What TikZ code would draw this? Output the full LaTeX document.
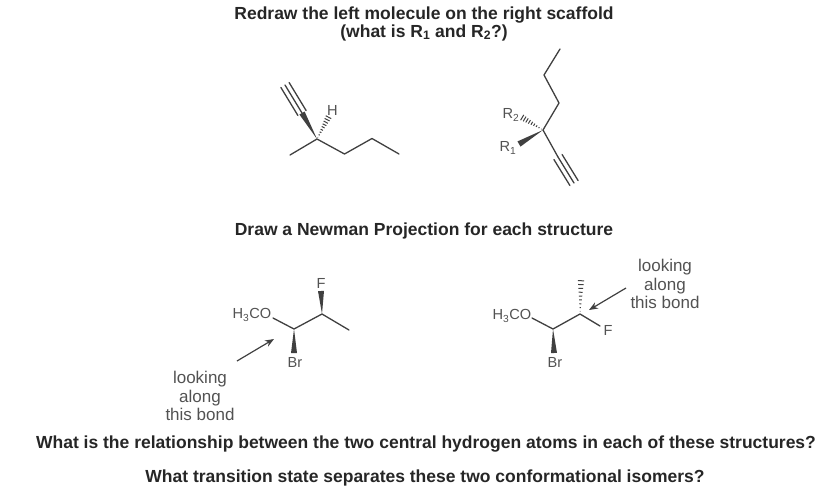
\documentclass[tikz,border=0pt]{standalone}
\usepackage{fontspec}
\setmainfont{Liberation Sans}
\usepackage{tikz}
\usetikzlibrary{calc,arrows.meta}

\newcommand{\wedgebond}[2]{\fill[bondcolor] (#1) -- ($(#2)!3pt!90:(#1)$) -- ($(#2)!3pt!-90:(#1)$) -- cycle;}
\newcommand{\hashbond}[2]{\foreach \t in {0.08,0.2,...,1.05} {
\draw[bondcolor,line width=1pt] ($($(#1)!\t!(#2)$)!\t*3pt!90:(#2)$) -- ($($(#1)!\t!(#2)$)!\t*3pt!-90:(#2)$);
}}
\newcommand{\triplebond}[2]{\draw[bond] (#1) -- (#2);
\draw[bond] ($(#1)!4.8pt!90:(#2)$) -- ($(#2)!4.8pt!-90:(#1)$);
\draw[bond] ($(#1)!4.8pt!-90:(#2)$) -- ($(#2)!4.8pt!90:(#1)$);}

\colorlet{bondcolor}{black!75}
\colorlet{textcolor}{black!85}

\begin{document}
\begin{tikzpicture}[x=1pt,y=-1pt]
\tikzstyle{bond}=[draw=bondcolor,line width=1.3pt,line cap=round,line join=round]
\tikzstyle{heading}=[inner sep=0pt,font=\fontsize{17.5}{15.5}\selectfont\bfseries,text=textcolor]
\tikzstyle{atom}=[inner sep=0pt,font=\fontsize{14.6}{16}\selectfont,text=textcolor!80]
\tikzstyle{note}=[inner sep=0pt,align=center,font=\fontsize{17}{18.5}\selectfont,text=textcolor!80]
\tikzstyle{pointer}=[draw=bondcolor,line width=1.2pt,-{Stealth[length=9pt,width=7pt]}]

\useasboundingbox (0,0) rectangle (835,491);

% headings
\node[heading,align=center] (redraw) at (424,24) {Redraw the left molecule on the right scaffold\\(what is R\textsubscript{1} and R\textsubscript{2}?)};
\node[heading] (newman) at (424,231) {Draw a Newman Projection for each structure};
\node[heading] (relation) at (426,444) {What is the relationship between the two central hydrogen atoms in each of these structures?};
\node[heading] (transition) at (425,478) {What transition state separates these two conformational isomers?};

% left molecule
\coordinate (lc) at (317,139);
\coordinate (lyne) at (302,113);
\coordinate (lend) at (285,85);
\coordinate (lme) at (290,155);
\coordinate (la) at (344.5,154);
\coordinate (lb) at (372,138.5);
\coordinate (ld) at (399,154);
\coordinate (lhash) at (328,118);
\node[atom] (lh) at (332.5,110.5) {H};
\draw[bond] (lme) -- (lc) -- (la) -- (lb) -- (ld);
\triplebond{lyne}{lend}
\wedgebond{lc}{lyne}
\hashbond{lc}{lhash}

% right scaffold
\coordinate (rc) at (543,130);
\coordinate (ra) at (559,103);
\coordinate (rb) at (544,75);
\coordinate (rd) at (560,49);
\coordinate (ryne) at (558,157);
\coordinate (rend) at (574,183);
\coordinate (rhash) at (523,118);
\coordinate (rwedge) at (519,144);
\node[atom] (rtwo) at (511,115) {R\textsubscript{2}};
\node[atom] (rone) at (508,148) {R\textsubscript{1}};
\draw[bond] (rd) -- (rb) -- (ra) -- (rc) -- (ryne);
\triplebond{ryne}{rend}
\wedgebond{rc}{rwedge}
\hashbond{rc}{rhash}

% lower left
\node[atom] (lo) at (252,315) {H\textsubscript{3}CO};
\node[atom] (lf) at (321,283) {F};
\node[atom] (lbr) at (295,362) {Br};
\coordinate (na) at (294,329);
\coordinate (nb) at (322,314);
\coordinate (nme) at (349,330);
\coordinate (nf) at (321,291);
\coordinate (nbr) at (294,353);
\coordinate (nstart) at (273,318);
\draw[bond] (nstart) -- (na) -- (nb) -- (nme);
\wedgebond{nb}{nf}
\wedgebond{na}{nbr}
\coordinate (ptail) at (237,361);
\coordinate (phead) at (274,339);
\draw[pointer] (ptail) -- (phead);
\node[note] (lnote) at (200,396) {looking\\along\\this bond};

% lower right
\node[atom] (ro) at (512,316) {H\textsubscript{3}CO};
\node[atom] (rf) at (608,330) {F};
\node[atom] (rbr) at (555,362) {Br};
\coordinate (ma) at (553,329);
\coordinate (mb) at (580,314);
\coordinate (mf) at (600,326);
\coordinate (mme) at (581,282);
\coordinate (mbr) at (554,353);
\coordinate (mstart) at (532,318);
\draw[bond] (mstart) -- (ma) -- (mb) -- (mf);
\wedgebond{ma}{mbr}
\hashbond{mb}{mme}
\coordinate (qtail) at (626,288);
\coordinate (qhead) at (589,310);
\draw[pointer] (qtail) -- (qhead);
\node[note] (rnote) at (665,284) {looking\\along\\this bond};
\end{tikzpicture}
\end{document}
